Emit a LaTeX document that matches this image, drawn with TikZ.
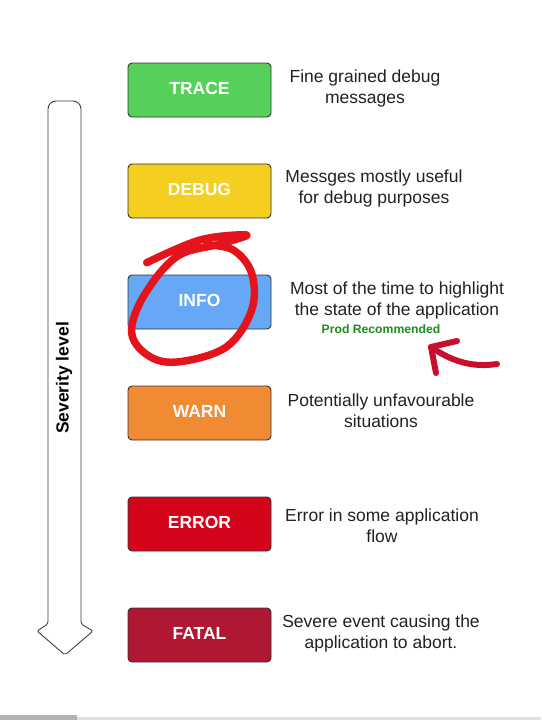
\documentclass[tikz,border=0pt]{standalone}
\usepackage{fontspec}
\setmainfont{Liberation Sans}
\definecolor{ctrace}{HTML}{55D05A}
\definecolor{cdebug}{HTML}{F4CF1F}
\definecolor{cinfo}{HTML}{66A8F5}
\definecolor{cwarn}{HTML}{F08A33}
\definecolor{cerror}{HTML}{D4051A}
\definecolor{cfatal}{HTML}{B01733}
\definecolor{ctext}{HTML}{222222}
\definecolor{cmark}{HTML}{E3141B}
\definecolor{carr}{HTML}{C8102E}
\definecolor{cprod}{HTML}{1E8C1E}
\tikzset{
  levelbox/.style={draw=black!80, line width=0.9pt, rounded corners=4pt, minimum width=143pt, minimum height=54pt, text=white, font=\fontsize{17.5}{21}\selectfont\bfseries, inner sep=0pt, text depth=4pt},
  desc/.style={text=ctext, font=\fontsize{17.5}{21}\selectfont, align=center, inner sep=0pt},
}
\begin{document}
\begin{tikzpicture}[x=1pt,y=-1pt]
\fill[white] (0,0) rectangle (541,720);
\useasboundingbox (0,0) rectangle (541,720);
% severity arrow
\draw[black!75, line width=0.9pt, fill=white] (48,624) [rounded corners=8pt] -- (48,101) -- (81,101) [rounded corners=2pt] -- (81,624) -- (93,631) -- (65,655) -- (37,631) -- cycle;
\node[rotate=90, text=black, font=\fontsize{17.5}{21}\selectfont\bfseries, inner sep=0pt] (sev) at (64,378) {Severity level};
% level boxes
\node[levelbox, fill=ctrace] (trace) at (199.5,90) {TRACE};
\node[levelbox, fill=cdebug] (debug) at (199.5,191) {DEBUG};
\node[levelbox, fill=cinfo] (info) at (199.5,302) {INFO};
\node[levelbox, fill=cwarn] (warn) at (199.5,413) {WARN};
\node[levelbox, fill=cerror] (error) at (199.5,524) {ERROR};
\node[levelbox, fill=cfatal] (fatal) at (199.5,635) {FATAL};
% descriptions
\node[desc] (dtrace) at (365,88) {Fine grained debug\\messages};
\node[desc] (ddebug) at (374,188) {Messges mostly useful\\for debug purposes};
\node[desc] (dinfo) at (397,300) {Most of the time to highlight\\the state of the application};
\node[text=cprod, font=\fontsize{12.2}{14}\selectfont\bfseries, inner sep=0pt] (prod) at (381,329) {Prod Recommended};
\node[desc] (dwarn) at (381,411) {Potentially unfavourable\\situations};
\node[desc] (derror) at (382,526) {Error in some application\\flow};
\node[desc] (dfatal) at (381,633) {Severe event causing the\\application to abort.};
% hand-drawn circle around INFO
\draw[cmark, line width=7.5pt, line cap=round, line join=round] plot[smooth, tension=0.6] coordinates {(146.7,262.7) (200,240) (246.7,235) (220,244) (176.7,256.7) (143.3,296.7) (131.7,333.3) (150,356.7) (180,361.7) (226.7,346.7) (251.7,310) (251.7,273.3) (233.3,250) (206.7,245)};
% hand-drawn arrow towards Prod Recommended
\coordinate (tip) at (431,347);
\coordinate (tail) at (497,364);
\draw[carr, line width=6pt, line cap=round, line join=round] (tail) .. controls (470,368) and (450,360) .. (tip);
\draw[carr, line width=6pt, line cap=round, line join=round] (457,341) -- (tip) -- (436,373);
% bottom bar
\fill[black!12] (0,717) rectangle (541,720);
\fill[black!30] (0,715) rectangle (77,720);
\end{tikzpicture}
\end{document}
